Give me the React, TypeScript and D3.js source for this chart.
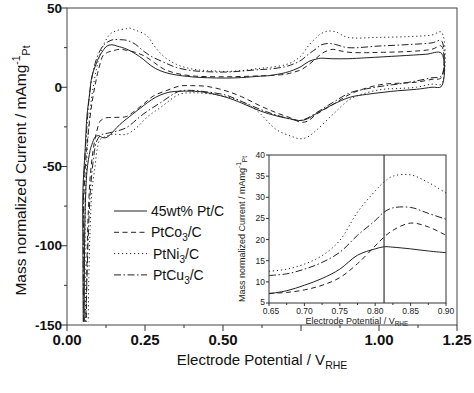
import React from "react";
import * as d3 from "d3";

// ---------- main chart data (x: V vs RHE, y: mA mg^-1 Pt) ----------
const ptcAnodic: [number, number][] = [
  [0.052, -148], [0.051, -100], [0.051, -65], [0.058, -40], [0.064, -18], [0.072, -5],
  [0.08, 7], [0.096, 16], [0.1, 18], [0.115, 23], [0.128, 26], [0.144, 26.8], [0.16, 26],
  [0.192, 24], [0.22, 21], [0.244, 17.7], [0.27, 13.5], [0.298, 10.5], [0.33, 8.5],
  [0.37, 7.2], [0.404, 6.5], [0.45, 6], [0.51, 5.8], [0.56, 6.1], [0.62, 7], [0.65, 7.4],
  [0.7, 9.2], [0.725, 10.8], [0.75, 13], [0.775, 16.3], [0.8, 17.8], [0.8125, 18.3],
  [0.85, 18], [0.9, 18], [0.96, 18.6], [1.067, 19.8], [1.15, 20.8], [1.2, 21.5],
];
const ptcCathodic: [number, number][] = [
  [1.2, 0.5], [1.17, 0], [1.12, -1.3], [1.06, -2.2], [1.013, -3.2], [0.96, -4.5],
  [0.907, -6.3], [0.853, -10.8], [0.8, -16.5], [0.77, -20], [0.747, -21], [0.725, -20.3],
  [0.67, -18], [0.62, -15], [0.56, -10], [0.51, -6.3], [0.436, -3], [0.4, -2.5],
  [0.362, -2.5], [0.33, -3], [0.298, -5], [0.27, -8], [0.244, -11.8], [0.21, -17],
  [0.17, -23.4], [0.15, -27.5], [0.138, -30], [0.125, -31.8], [0.115, -31.8], [0.1, -30.5],
  [0.09, -31.5], [0.08, -36], [0.074, -40], [0.064, -53], [0.058, -80], [0.056, -110],
  [0.055, -148],
];
const ptco3Anodic: [number, number][] = [
  [0.055, -148], [0.054, -100], [0.055, -65], [0.065, -35], [0.08, -10], [0.096, 7],
  [0.105, 14], [0.115, 19.8], [0.13, 22], [0.147, 23], [0.17, 24], [0.19, 23.3],
  [0.22, 22], [0.25, 19.5], [0.28, 15.5], [0.31, 11.5], [0.35, 8.8], [0.4, 7.2],
  [0.45, 6.7], [0.51, 6.6], [0.56, 6.8], [0.62, 7.2], [0.65, 7.4], [0.7, 8.2],
  [0.725, 9.4], [0.75, 11], [0.775, 14.3], [0.8, 18.5], [0.8125, 20.6], [0.825, 22.2],
  [0.85, 23.9], [0.875, 23], [0.907, 22], [0.96, 21.8], [1.0, 22], [1.1, 22.6],
  [1.17, 24], [1.2, 26],
];
const ptco3Cathodic: [number, number][] = [
  [1.2, 6], [1.17, 5], [1.12, 3.2], [1.06, 2.5], [1.013, 1.9], [0.96, -0.5],
  [0.907, -4.4], [0.853, -10.8], [0.8, -17], [0.77, -21.5], [0.747, -22], [0.725, -20],
  [0.67, -16], [0.62, -11.8], [0.56, -6], [0.51, -2.3], [0.45, 0.5], [0.4, 1],
  [0.362, 0.8], [0.32, -2], [0.277, -5.5], [0.244, -10.8], [0.21, -16], [0.19, -18.5],
  [0.16, -19], [0.128, -19.2], [0.115, -20], [0.106, -21.5], [0.095, -28], [0.085, -38],
  [0.075, -55], [0.068, -80], [0.064, -110], [0.062, -148],
];
const ptni3Anodic: [number, number][] = [
  [0.06, -148], [0.058, -100], [0.06, -65], [0.068, -30], [0.08, -5], [0.095, 12],
  [0.106, 21], [0.12, 28], [0.138, 33.5], [0.16, 35.8], [0.192, 37], [0.2, 37.3],
  [0.22, 36], [0.256, 32.5], [0.28, 26], [0.308, 19.8], [0.35, 14.5], [0.404, 11.4],
  [0.45, 10.5], [0.51, 10], [0.56, 10.5], [0.62, 12], [0.65, 12.5], [0.7, 14.2],
  [0.725, 16.2], [0.75, 19.8], [0.775, 26.5], [0.8, 31.5], [0.8125, 33.6], [0.835, 35.4],
  [0.86, 35], [0.9, 31.5], [1.0, 31.5], [1.1, 32], [1.17, 33], [1.2, 34.8],
];
const ptni3Cathodic: [number, number][] = [
  [1.2, 2], [1.17, 2], [1.12, 0], [1.06, -0.8], [1.013, -1.3], [0.96, -3.5],
  [0.907, -7.6], [0.853, -17], [0.8, -27], [0.77, -31.5], [0.747, -32.5], [0.72, -31],
  [0.67, -26.6], [0.61, -15], [0.56, -9], [0.51, -6], [0.45, -4], [0.4, -3.5],
  [0.36, -4.5], [0.3, -12.7], [0.256, -19], [0.22, -26], [0.19, -29.7], [0.147, -29.7],
  [0.125, -31], [0.106, -33], [0.096, -40], [0.09, -50], [0.08, -65], [0.074, -90],
  [0.07, -120], [0.068, -148],
];
const ptcu3Anodic: [number, number][] = [
  [0.053, -148], [0.052, -100], [0.054, -60], [0.062, -30], [0.075, 0], [0.09, 15],
  [0.103, 22], [0.115, 26], [0.13, 28.5], [0.147, 30], [0.17, 30], [0.192, 29.6],
  [0.22, 27], [0.244, 23], [0.27, 19.5], [0.31, 15.8], [0.35, 12.5], [0.4, 10.5],
  [0.45, 9.8], [0.51, 9.6], [0.56, 10.2], [0.62, 11.2], [0.65, 11.5], [0.7, 13],
  [0.725, 14.6], [0.75, 17], [0.775, 21], [0.8, 24.5], [0.8125, 26.5], [0.835, 27.6],
  [0.86, 27], [0.9, 25], [1.0, 26], [1.1, 27], [1.17, 28], [1.2, 29.3],
];
const ptcu3Cathodic: [number, number][] = [
  [1.2, 7], [1.17, 6], [1.12, 4], [1.06, 2], [1.013, 0.8], [0.96, -1],
  [0.907, -3.5], [0.853, -9.5], [0.8, -16], [0.77, -19.5], [0.747, -21], [0.725, -20.5],
  [0.67, -17.5], [0.62, -14], [0.56, -9], [0.51, -5], [0.45, -3], [0.4, -2],
  [0.36, -2.5], [0.3, -9.7], [0.244, -17], [0.19, -25.5], [0.16, -27.6], [0.13, -29],
  [0.11, -30], [0.095, -34], [0.085, -45], [0.075, -65], [0.068, -95], [0.064, -120],
  [0.06, -148],
];

// ---------- inset data ----------
const insetX = [0.65, 0.675, 0.7, 0.725, 0.75, 0.775, 0.8, 0.8125, 0.825, 0.85, 0.875, 0.9];
const insetPtc = [7.2, 7.9, 9.2, 10.8, 13, 16.3, 17.8, 18.3, 18.2, 17.8, 17.3, 16.9];
const insetPtco3 = [7.3, 7.5, 8.1, 9.2, 11, 14.3, 18.5, 20.6, 22.2, 23.9, 23, 21];
const insetPtni3 = [12.5, 13, 14.2, 16.2, 19.8, 26.5, 31.5, 33.6, 35, 35.3, 33.5, 31];
const insetPtcu3 = [11.5, 11.9, 13, 14.6, 17, 21, 24.5, 26.5, 27.5, 27.6, 26.2, 24.8];
const insetMarkerX = 0.8125;

// ---------- ticks & labels ----------
const xTicks = [0, 0.25, 0.5, 0.75, 1.0, 1.25];
const xTickLabels = ["0.00", "0.25", "0.50", "", "1.00", "1.25"];
const yTicks = [-150, -100, -50, 0, 50];
const insetXTicks = [0.65, 0.7, 0.75, 0.8, 0.85, 0.9];
const insetYTicks = [5, 10, 15, 20, 25, 30, 35, 40];
const seriesNames = ["45wt% Pt/C", "PtCo", "PtNi", "PtCu"];

const STROKE = "#222";
const dashes = [null, "5,3.5", "1.2,2.8", "7,2.5,1.5,2.5"];

export default function App() {
  const x = d3.scaleLinear().domain([0, 1.25]).range([67, 457]);
  const y = d3.scaleLinear().domain([-150, 50]).range([325, 8]);
  const xi = d3.scaleLinear().domain([0.65, 0.9]).range([269, 446]);
  const yi = d3.scaleLinear().domain([5, 40]).range([303, 155]);

  const line = d3
    .line<[number, number]>()
    .x((d) => x(d[0]))
    .y((d) => y(d[1]))
    .curve(d3.curveCatmullRom.alpha(0.5));

  const loops = [
    ptcAnodic.concat(ptcCathodic),
    ptco3Anodic.concat(ptco3Cathodic),
    ptni3Anodic.concat(ptni3Cathodic),
    ptcu3Anodic.concat(ptcu3Cathodic),
  ];

  const insetSeries = [insetPtc, insetPtco3, insetPtni3, insetPtcu3];
  const insetLine = d3
    .line<number>()
    .x((_, i) => xi(insetX[i]))
    .y((d) => yi(d))
    .curve(d3.curveCatmullRom.alpha(0.5));

  const xMinor = d3.range(0, 1.2501, 0.125).filter((v) => !xTicks.some((t) => Math.abs(t - v) < 1e-6));
  const yMinor = d3.range(-150, 50.01, 25).filter((v) => !yTicks.includes(v));
  const ixMinor = d3.range(0.675, 0.9, 0.05);

  const font = "'Liberation Sans', Arial, sans-serif";

  return (
    <svg
      width={474}
      height={393}
      style={{ position: "absolute", left: 0, top: 0, background: "#fff" }}
      fontFamily={font}
    >
      <rect x={0} y={0} width={474} height={393} fill="#fff" />
      {/* curves */}
      <g fill="none" stroke={STROKE} strokeWidth={1}>
        {loops.map((d, i) => (
          <path key={i} d={line(d) || ""} strokeDasharray={dashes[i] || undefined} />
        ))}
      </g>
      {/* frame */}
      <rect x={67} y={8} width={390} height={317} fill="none" stroke="#444" strokeWidth={1} />
      {/* x ticks */}
      {xTicks.map((t, i) => (
        <g key={"xt" + i}>
          <line x1={x(t)} x2={x(t)} y1={325} y2={331} stroke="#333" />
          {xTickLabels[i] && (
            <text x={x(t)} y={345} textAnchor="middle" fontSize={15} fontWeight="bold" fill="#111">
              {xTickLabels[i]}
            </text>
          )}
        </g>
      ))}
      {xMinor.map((t, i) => (
        <line key={"xm" + i} x1={x(t)} x2={x(t)} y1={325} y2={328} stroke="#333" />
      ))}
      {/* y ticks */}
      {yTicks.map((t, i) => (
        <g key={"yt" + i}>
          <line x1={61} x2={67} y1={y(t)} y2={y(t)} stroke="#333" />
          <text x={62} y={y(t) + 4.5} textAnchor="end" fontSize={13.5} fontWeight="bold" fill="#111">
            {t}
          </text>
        </g>
      ))}
      {yMinor.map((t, i) => (
        <line key={"ym" + i} x1={64} x2={67} y1={y(t)} y2={y(t)} stroke="#333" />
      ))}
      {/* axis titles */}
      <text x={262} y={365} textAnchor="middle" fontSize={15} fill="#111">
        Electrode Potential / V<tspan fontSize={10.5} dy={4}>RHE</tspan>
      </text>
      <text
        transform={`translate(26,${(8 + 325) / 2 + 4}) rotate(-90)`}
        textAnchor="middle"
        fontSize={15.5}
        fill="#111"
      >
        Mass normalized Current / mAmg<tspan fontSize={10.5} dy={-6}>-1</tspan>
        <tspan fontSize={10.5} dy={10}>Pt</tspan>
      </text>
      {/* legend */}
      {seriesNames.map((n, i) => {
        const yy = 211 + i * 21.3;
        return (
          <g key={"lg" + i}>
            <line
              x1={114}
              x2={147}
              y1={yy}
              y2={yy}
              stroke={STROKE}
              strokeWidth={1}
              strokeDasharray={dashes[i] || undefined}
            />
            <text x={i < 2 ? 151 : 153} y={yy + 5} fontSize={14} fill="#111">
              {i === 0 ? (
                n
              ) : (
                <>
                  {n}
                  <tspan fontSize={10} dy={4}>3</tspan>
                  <tspan dy={-4}>/C</tspan>
                </>
              )}
            </text>
          </g>
        );
      })}
      {/* inset */}
      <rect x={269} y={155} width={177} height={148} fill="#fff" stroke="#333" strokeWidth={1} />
      <g fill="none" stroke={STROKE} strokeWidth={1}>
        {insetSeries.map((s, i) => (
          <path key={"in" + i} d={insetLine(s) || ""} strokeDasharray={dashes[i] || undefined} />
        ))}
      </g>
      <line x1={xi(insetMarkerX)} x2={xi(insetMarkerX)} y1={155} y2={303} stroke="#333" strokeWidth={1.2} />
      {insetXTicks.map((t, i) => (
        <g key={"ixt" + i}>
          <line x1={xi(t)} x2={xi(t)} y1={303} y2={306} stroke="#333" />
          <text x={xi(t) + (i === 0 ? 2 : 0)} y={313.5} textAnchor="middle" fontSize={8.5} fill="#222">
            {t.toFixed(2)}
          </text>
        </g>
      ))}
      {ixMinor.map((t, i) => (
        <line key={"ixm" + i} x1={xi(t)} x2={xi(t)} y1={303} y2={305} stroke="#333" />
      ))}
      {insetYTicks.map((t, i) => (
        <g key={"iyt" + i}>
          <line x1={266} x2={269} y1={yi(t)} y2={yi(t)} stroke="#333" />
          <text x={265} y={yi(t) + (i === 0 ? 1.5 : 3)} textAnchor="end" fontSize={8.5} fill="#222">
            {t}
          </text>
        </g>
      ))}
      <text x={357} y={324} textAnchor="middle" fontSize={9} fill="#222">
        Electrode Potential / V<tspan fontSize={6.5} dy={2}>RHE</tspan>
      </text>
      <text
        transform={`translate(245,229) rotate(-90)`}
        textAnchor="middle"
        fontSize={9}
        fill="#222"
      >
        Mass normalized Current / mAmg<tspan fontSize={6.5} dy={-4}>-1</tspan>
        <tspan fontSize={6.5} dy={6}>Pt</tspan>
      </text>
    </svg>
  );
}
